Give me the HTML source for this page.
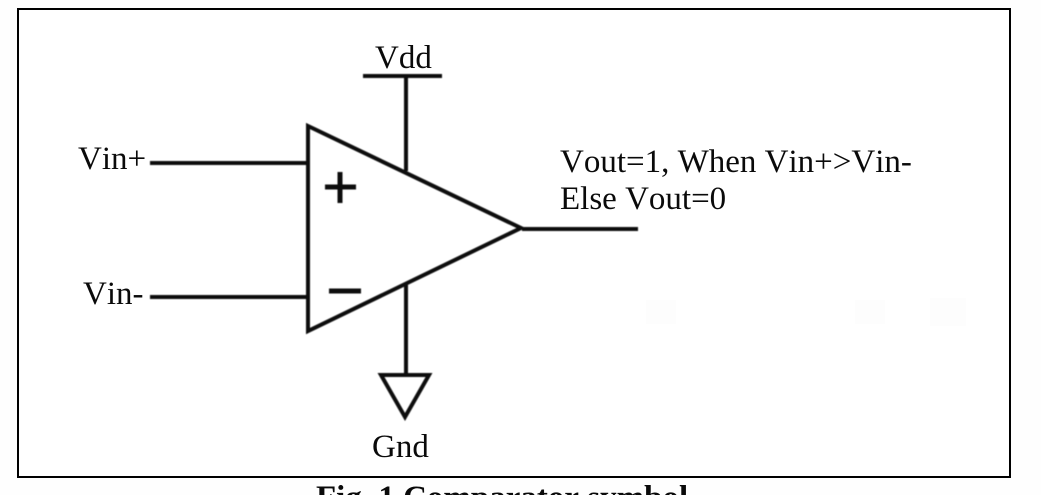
<!DOCTYPE html>
<html>
<head>
<meta charset="utf-8">
<style>
html,body{margin:0;padding:0;background:#fefefe;width:1041px;height:495px;overflow:hidden}
svg{display:block}
text{font-family:"Liberation Serif",serif;font-size:33px;fill:#0a0a0a;font-kerning:none}
</style>
</head>
<body>
<svg width="1041" height="495" viewBox="0 0 1041 495" xmlns="http://www.w3.org/2000/svg">
<defs><filter id="b" x="-5%" y="-5%" width="110%" height="110%"><feGaussianBlur stdDeviation="0.5"/></filter></defs>
<rect x="0" y="0" width="1041" height="495" fill="#fefefe"/>
<rect x="18" y="9" width="992" height="468" fill="#ffffff" stroke="#000" stroke-width="2"/>
<g filter="url(#b)" stroke="#0a0a0a" stroke-width="4" fill="none">
<path d="M308 126 L308 331 L521 228 Z" stroke-linejoin="miter"/>
<path d="M150 163H307M150 297H307M522 229H638"/>
<path d="M363 76H442M406 76V171M406 285V375"/>
<path d="M381 375H429L405 417Z" stroke-width="4"/>
<path d="M325 187H356M340 172V203M329 291H361" stroke-width="5"/>
</g>
<g fill="#fdfdfd"><rect x="646" y="300" width="30" height="24"/><rect x="855" y="300" width="30" height="24"/><rect x="930" y="298" width="36" height="28"/></g>
<text x="375" y="68">Vdd</text>
<text x="78" y="169">Vin+</text>
<text x="83" y="304">Vin-</text>
<text x="560" y="172">Vout=1, When Vin+&gt;Vin-</text>
<text x="560" y="209">Else Vout=0</text>
<text x="372" y="457">Gnd</text>
<text x="316" y="508" style="font-weight:bold">Fig. 1 Comparator symbol</text>
</svg>
</body>
</html>
